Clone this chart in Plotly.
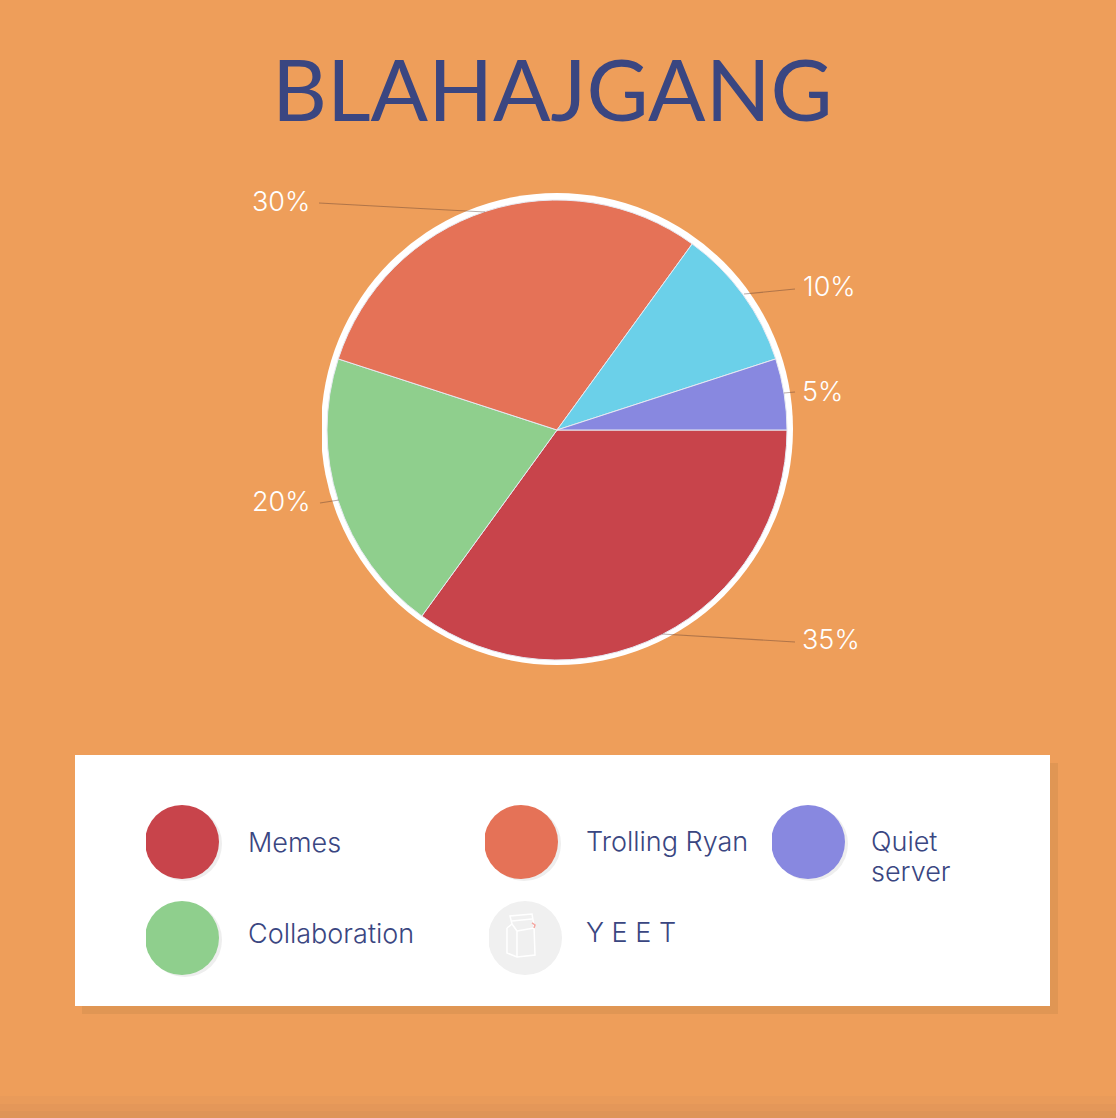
import plotly.graph_objects as go

W = 1116
H = 1118

# slices, clockwise from 3 o'clock
categories = ["Memes", "Collaboration", "Trolling Ryan", "Y E E T", "Quiet server"]
shares = [35, 20, 30, 10, 5]
slice_colors = ["#C8444B", "#8FCF8D", "#E57257", "#6BD0E9", "#8888E0"]

# legend swatches
legend_colors = ["#C8444B", "#E57257", "#8888E0", "#8FCF8D", "#F0F0F0"]
legend_cx = [182, 521, 808, 182, 525]
legend_cy = [842, 842, 842, 938, 938]
has_shadow = [True, True, True, True, False]

# legend text, "Quiet server" wraps onto two lines
legend_text = ["Memes", "Trolling Ryan", "Quiet", "server", "Collaboration", "Y E E T"]
legend_tx = [246, 584, 869, 869, 246, 584]
legend_ty = [842, 841, 841, 871, 933, 932]

# pct labels and their leader lines (pixels)
label_y = [639, 502, 201, 287, 391]
label_x = [800, 250, 250, 801, 800]
leader_from = [(795, 642), (320, 503), (319, 203), (795, 289), (795, 392)]
leader_to = [(662, 634), (339, 500), (485, 212), (744, 294), (784, 393)]

BG = "#EE9E5A"
NAVY = "#3A4681"


def px(x):
    return x / W


def py(y):
    return 1 - y / H


def rect(x0, y0, x1, y1, fill, layer="below"):
    return dict(type="rect", xref="paper", yref="paper", x0=px(x0), x1=px(x1),
                y0=py(y0), y1=py(y1), fillcolor=fill, line_width=0, layer=layer)


def circle(cx, cy, r, fill, layer="below"):
    return dict(type="circle", xref="paper", yref="paper", x0=px(cx - r), x1=px(cx + r),
                y0=py(cy - r), y1=py(cy + r), fillcolor=fill, line_width=0, layer=layer)


def path(points, color, width=1.5, close=False):
    s = "M " + " L ".join(f"{px(x):.5f},{py(y):.5f}" for x, y in points)
    if close:
        s += " Z"
    return dict(type="path", xref="paper", yref="paper", path=s,
                line=dict(color=color, width=width), layer="above")


fig = go.Figure(go.Pie(
    labels=categories,
    values=shares,
    sort=False,
    direction="clockwise",
    rotation=90,
    marker=dict(colors=slice_colors, line=dict(color="#E6E9F2", width=1)),
    textinfo="none",
    hoverinfo="label+percent",
    showlegend=False,
    domain=dict(x=[px(327), px(787)], y=[py(660), py(200)]),
))

shapes = []

# slightly darker strip at the bottom of the page
for y0, fill in [(1096, "rgba(150,110,90,0.05)"), (1104, "rgba(150,110,90,0.06)"), (1111, "rgba(150,110,90,0.07)")]:
    shapes.append(rect(0, y0, W, H, fill))

# white ring round the pie, cut on the left like the original
shapes.append(circle(557, 429, 236, "#FFFFFF"))
shapes.append(rect(316, 380, 322, 480, BG))

# legend card + shadow
shapes.append(rect(82, 763, 1058, 1014, "#E09654"))
shapes.append(rect(75, 755, 1050, 1006, "#FFFFFF"))

for color, cx, cy, shadow in zip(legend_colors, legend_cx, legend_cy, has_shadow):
    if shadow:
        shapes.append(circle(cx + 3, cy + 2, 37, "#EEEEEE"))
    shapes.append(circle(cx, cy, 37, color))
    # the swatches are cut flat on the left
    shapes.append(rect(cx - 40, cy - 40, cx - 36, cy + 40, "#FFFFFF"))

# broken milk carton icon
carton = "#FFFFFF"
shapes.append(path([(507, 928), (507, 953), (517, 957), (535, 955), (534, 926), (532, 914), (510, 916), (512, 924), (507, 928)], carton))
shapes.append(path([(512, 924), (517, 931), (517, 957)], carton))
shapes.append(path([(517, 931), (534, 928)], carton))
shapes.append(path([(512, 921), (532, 919)], carton))
shapes.append(circle(522, 924, 3, "rgba(255,255,255,0)", layer="above") | {"line": dict(color=carton, width=1.5)})
shapes.append(path([(532, 923), (535, 925), (534, 928)], "#F4A6A0", width=1.5))

for a, b in zip(leader_from, leader_to):
    shapes.append(path([a, b], "rgba(90,60,50,0.42)", width=1.2))

annotations = [dict(
    text="BLAHAJGANG", xref="paper", yref="paper", x=px(552), y=py(88),
    xanchor="center", yanchor="middle", showarrow=False,
    font=dict(family="Lato", size=85, color=NAVY),
)]

for v, x, y in zip(shares, label_x, label_y):
    annotations.append(dict(
        text=f"{v}%", xref="paper", yref="paper", x=px(x), y=py(y),
        xanchor="left", yanchor="middle", showarrow=False,
        font=dict(family="Inter", size=27, color="#FFFFFF", weight=300),
    ))

for name, x, y in zip(legend_text, legend_tx, legend_ty):
    annotations.append(dict(
        text=name, xref="paper", yref="paper", x=px(x), y=py(y),
        xanchor="left", yanchor="middle", align="left", showarrow=False,
        font=dict(family="Inter", size=27, color=NAVY, weight=300),
    ))

fig.update_layout(
    width=W,
    height=H,
    margin=dict(l=0, r=0, t=0, b=0),
    paper_bgcolor=BG,
    shapes=shapes,
    annotations=annotations,
)

fig.write_html("out.html", config=dict(displayModeBar=False),
               post_script="document.body.style.margin='0';document.documentElement.style.overflow='hidden';")
